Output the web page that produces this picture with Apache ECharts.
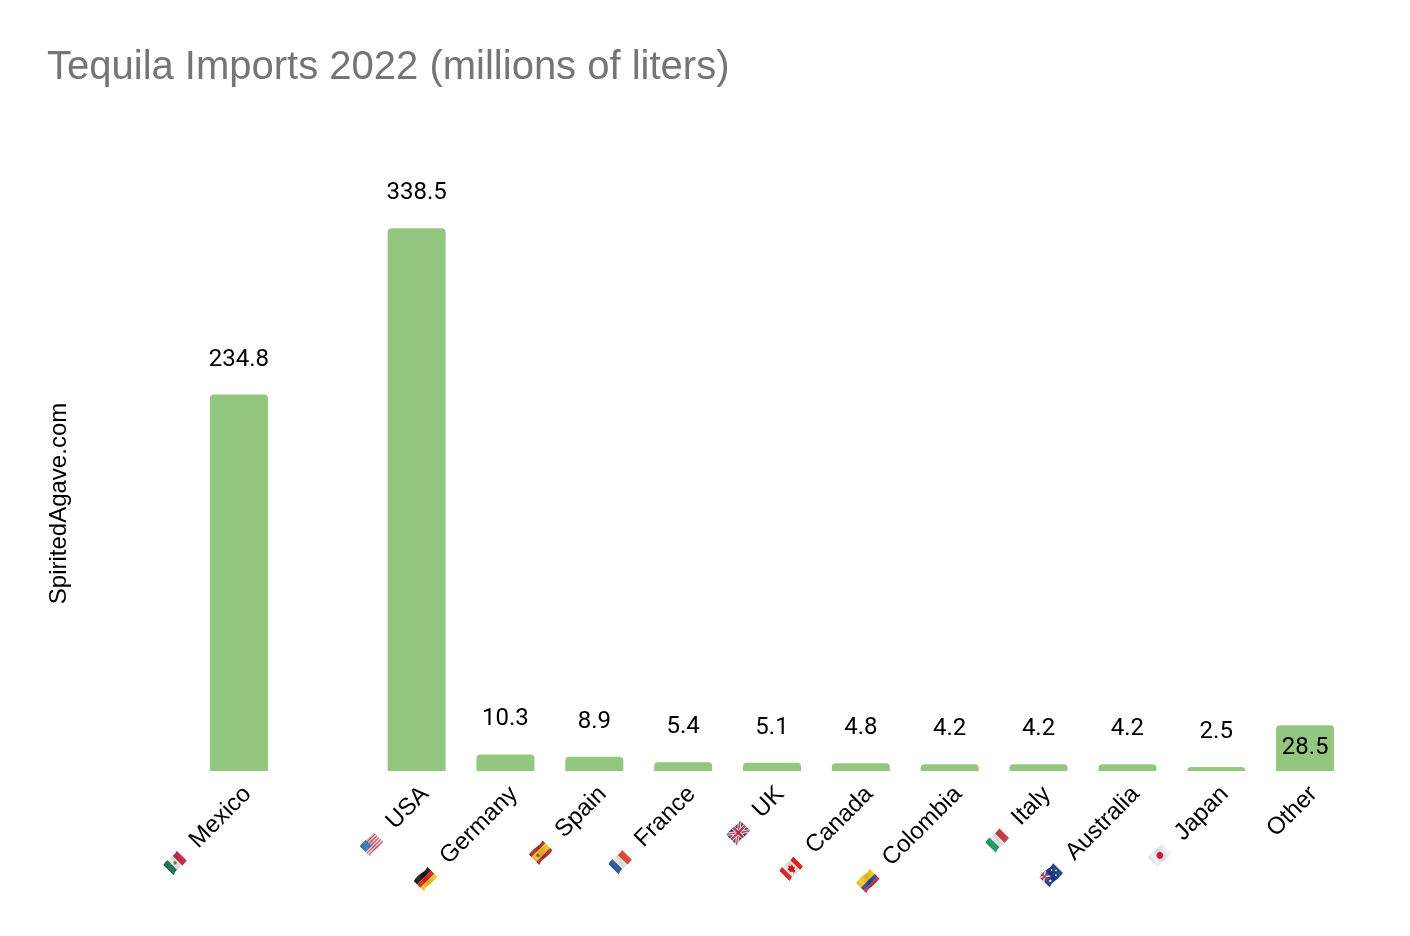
<!DOCTYPE html>
<html>
<head>
<meta charset="utf-8">
<title>Tequila Imports 2022</title>
<style>
  html, body { margin: 0; padding: 0; background: #fff; }
  #chart { width: 1410px; height: 936px; }
</style>
<script src="https://cdn.jsdelivr.net/npm/echarts@6/dist/echarts.min.js"></script>
</head>
<body>
<div id="chart"></div>
<script>
// Country names and import volumes, millions of liters. The empty slot keeps the gap after Mexico.
const countries = ['Mexico', '', 'USA', 'Germany', 'Spain', 'France', 'UK', 'Canada', 'Colombia', 'Italy', 'Australia', 'Japan', 'Other'];
const flagCodes = ['mx', '', 'us', 'de', 'es', 'fr', 'uk', 'ca', 'co', 'it', 'au', 'jp', ''];
const imports = [234.8, null, 338.5, 10.3, 8.9, 5.4, 5.1, 4.8, 4.2, 4.2, 4.2, 2.5, 28.5];

// Small waving flag drawings: each is a set of stripes clipped to a cloth shape with soft folds on top.
const cloth = 'M1 2 C8 0 14 1 20 2 C25 3 28 2 31 1 L31 22 C25 23 20 23 14 22 C8 21 5 22 1 24 Z';
const flagArt = {
  mx: '<rect width="11" height="24" fill="#0f6b47"/><rect x="11" width="10" height="24" fill="#f6f6f2"/><rect x="21" width="11" height="24" fill="#bf1f3c"/><circle cx="16" cy="12" r="2.5" fill="#8c7a50"/>',
  us: '<rect width="32" height="24" fill="#f3d9dc"/><path d="M0 5H32M0 9H32M0 13H32M0 17H32M0 21H32" stroke="#c9536b" stroke-width="1.8"/><rect width="14" height="13" y="1" fill="#3b6fae"/>',
  de: '<rect width="32" height="9" fill="#141414"/><rect y="9" width="32" height="7" fill="#d6201f"/><rect y="16" width="32" height="8" fill="#f3c21a"/>',
  es: '<rect width="32" height="7" fill="#b5262e"/><rect y="7" width="32" height="10" fill="#f0bd1f"/><rect y="17" width="32" height="7" fill="#b5262e"/><circle cx="10" cy="12" r="2.6" fill="#a9472c"/>',
  fr: '<rect width="11" height="24" fill="#1d4f94"/><rect x="11" width="10" height="24" fill="#f7f7f7"/><rect x="21" width="11" height="24" fill="#e2402f"/>',
  uk: '<rect width="32" height="24" fill="#27407f"/><path d="M0 0L32 24M32 0L0 24" stroke="#f2e6e8" stroke-width="5"/><path d="M0 0L32 24M32 0L0 24" stroke="#c9304a" stroke-width="2"/><path d="M16 0V24M0 12H32" stroke="#f2e6e8" stroke-width="6"/><path d="M16 0V24M0 12H32" stroke="#c9304a" stroke-width="3.4"/>',
  ca: '<rect width="32" height="24" fill="#ededed"/><rect width="8" height="24" fill="#dd1414"/><rect x="24" width="8" height="24" fill="#dd1414"/><path d="M16 5L18 9L21 8L20 13L22 14L18 16V19H14V16L10 14L12 13L11 8L14 9Z" fill="#dd1414"/>',
  co: '<rect width="32" height="12" fill="#f1c91f"/><rect y="12" width="32" height="6" fill="#24468f"/><rect y="18" width="32" height="6" fill="#c5263c"/>',
  it: '<rect width="11" height="24" fill="#129456"/><rect x="11" width="10" height="24" fill="#f4f4f0"/><rect x="21" width="11" height="24" fill="#c5313f"/>',
  au: '<rect width="32" height="24" fill="#1c3a86"/><path d="M0 1L14 12M14 1L0 12" stroke="#f0e4e6" stroke-width="2.4"/><path d="M7 1V12M0 6.5H14" stroke="#d12d48" stroke-width="2.6"/><circle cx="22" cy="7" r="1.2" fill="#fff"/><circle cx="26" cy="12" r="1.2" fill="#fff"/><circle cx="21" cy="17" r="1.2" fill="#fff"/><circle cx="9" cy="17" r="1.8" fill="#fff"/>',
  jp: '<rect width="32" height="24" fill="#f1f1f1"/><circle cx="16" cy="12" r="5" fill="#d51a45"/>'
};
const folds = '<linearGradient id="f" x1="0" x2="1" y1="0" y2="0.2">' +
  '<stop offset="0" stop-color="#000" stop-opacity=".12"/><stop offset=".3" stop-color="#fff" stop-opacity=".1"/>' +
  '<stop offset=".6" stop-color="#000" stop-opacity=".12"/><stop offset="1" stop-color="#fff" stop-opacity=".08"/></linearGradient>';
const flagImage = code => {
  const svg = '<svg xmlns="http://www.w3.org/2000/svg" width="78" height="60" viewBox="-3.5 -3 39 30">' + folds +
    '<clipPath id="c"><path d="' + cloth + '"/></clipPath>' +
    '<g clip-path="url(#c)">' + flagArt[code] + '<rect width="32" height="24" fill="url(#f)"/></g></svg>';
  return 'data:image/svg+xml;charset=utf-8,' + encodeURIComponent(svg);
};

const labelFont = 'Liberation Sans';
const richFlags = { name: { fontFamily: labelFont, fontSize: 24, color: '#000' } };
flagCodes.filter(Boolean).forEach(code => {
  richFlags[code] = { width: 26, height: 20, backgroundColor: { image: flagImage(code) } };
});

const chart = echarts.init(document.getElementById('chart'), null, { renderer: 'canvas' });
chart.setOption({
  animation: false,
  backgroundColor: '#fff',
  title: {
    text: 'Tequila Imports 2022 (millions of liters)',
    left: 42, top: 40,
    textStyle: { fontFamily: labelFont, fontSize: 40, fontWeight: 'normal', color: '#757575', lineHeight: 46 }
  },
  grid: { left: 194.5, right: 60.5, top: 120, bottom: 165, containLabel: false },
  xAxis: {
    type: 'category',
    data: countries,
    axisLine: { show: false },
    axisTick: { show: false },
    axisLabel: {
      interval: 0, rotate: 45, margin: 11, verticalAlign: 'top',
      fontFamily: labelFont, fontSize: 24, color: '#000', rich: richFlags,
      formatter: (name, i) => {
        const code = flagCodes[i];
        return code ? '{' + code + '|}  {name|' + name + '}' : '{name|' + name + '}';
      }
    }
  },
  yAxis: {
    type: 'value',
    min: 0,
    max: 406,
    name: 'SpiritedAgave.com',
    nameLocation: 'middle',
    nameGap: 123,
    nameRotate: 90,
    nameTextStyle: { fontFamily: labelFont, fontSize: 24, color: '#000', padding: [0, 116, 0, 0] },
    axisLine: { show: false },
    axisTick: { show: false },
    axisLabel: { show: false },
    splitLine: { show: false }
  },
  series: [{
    type: 'bar',
    data: imports.map((value, i) => countries[i] === 'Other'
      ? { value, label: { position: 'inside' } }
      : value),
    barWidth: 58,
    itemStyle: { color: '#93c67e', borderRadius: [4, 4, 0, 0] },
    label: {
      show: true, position: 'top', distance: 23,
      fontFamily: 'Roboto', fontSize: 24, color: '#000',
      formatter: p => p.value.toFixed(1)
    }
  }]
});
</script>
</body>
</html>
